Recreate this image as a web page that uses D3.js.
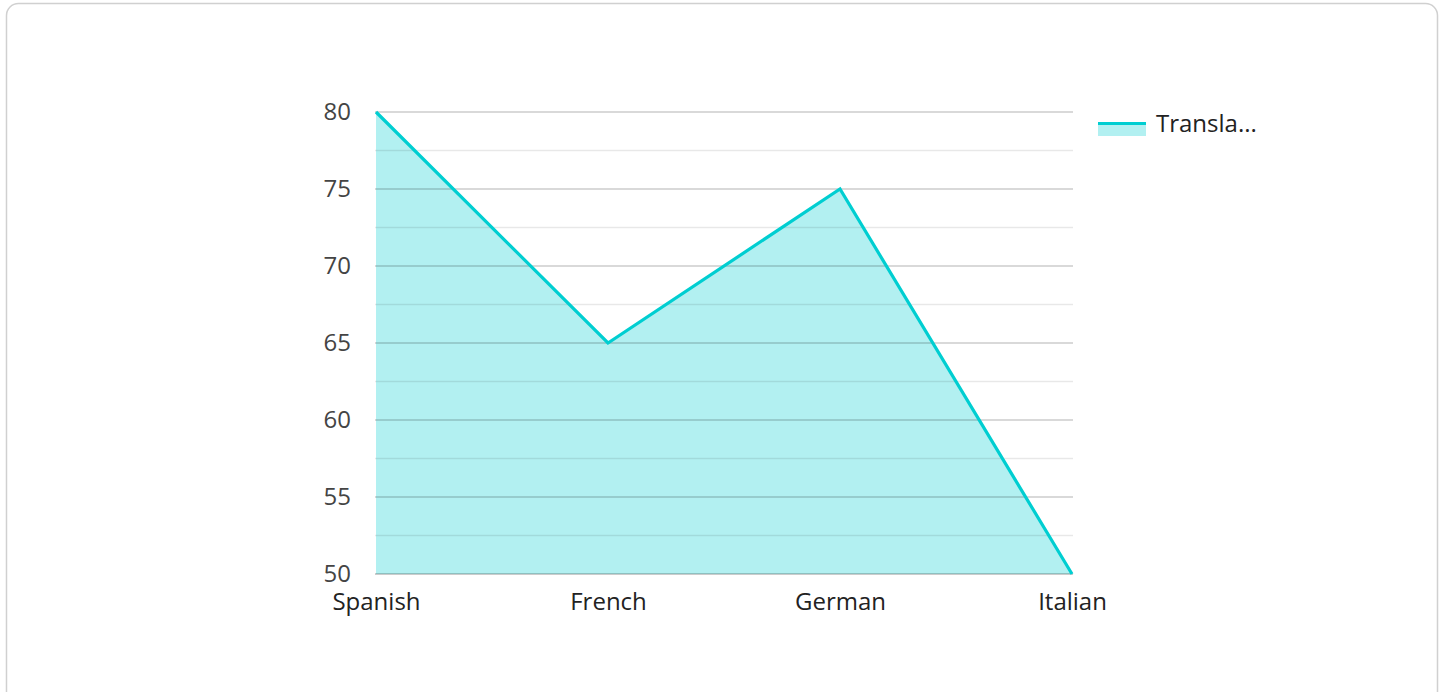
<!DOCTYPE html>
<html><head><meta charset="utf-8">
<script src="https://cdn.jsdelivr.net/npm/d3@7"></script>
<style>html,body{margin:0;padding:0;background:#fff;}svg{display:block;font-family:"Open Sans","Noto Sans",sans-serif;}</style>
</head><body>
<svg id="c" width="1445" height="692"></svg>
<script>
const categories = ["Spanish", "French", "German", "Italian"];
const values = [80, 65, 75, 50];
const seriesName = "Translation Accuracy";
const yTicks = [50, 55, 60, 65, 70, 75, 80];
const yMinorTicks = [52.5, 57.5, 62.5, 67.5, 72.5, 77.5];

const svg = d3.select("#c");
svg.append("rect").attr("x", 6.5).attr("y", 3.5).attr("width", 1431).attr("height", 700)
  .attr("rx", 12).attr("fill", "#fff").attr("stroke", "#d0d0d0").attr("stroke-width", 1.5);

const L = 376, R = 1072, T = 112, B = 574;
const x = d3.scalePoint().domain(categories).range([L, R]).padding(0);
const y = d3.scaleLinear().domain([50, 80]).range([B, T]);
const data = categories.map((c, i) => ({c, v: values[i]}));

const g = svg.append("g");
g.append("path").datum(data)
  .attr("d", d3.area().x(d => x(d.c)).y0(y(50)).y1(d => y(d.v)))
  .attr("fill", "rgba(0,206,209,0.3)");

g.selectAll(".minor").data(yMinorTicks).join("line")
  .attr("x1", L - 1).attr("x2", R + 1).attr("y1", d => y(d)).attr("y2", d => y(d))
  .attr("stroke", "rgba(0,0,0,0.09)").attr("stroke-width", 1.3);
g.selectAll(".major").data(yTicks).join("line")
  .attr("x1", L - 1).attr("x2", R + 1).attr("y1", d => y(d)).attr("y2", d => y(d))
  .attr("stroke", "rgba(0,0,0,0.2)").attr("stroke-width", d => d === 50 ? 2 : 1.5);

g.append("path").datum(data)
  .attr("d", d3.line().x(d => x(d.c)).y(d => y(d.v)))
  .attr("fill", "none").attr("stroke", "#00CED1").attr("stroke-width", 3.2).attr("stroke-linejoin", "miter");

const yAxis = d3.axisLeft(y).tickValues(yTicks).tickSize(0).tickPadding(0);
const ya = svg.append("g").attr("transform", `translate(${L - 25},0)`).call(yAxis);
ya.select(".domain").remove();
ya.selectAll("text").attr("font-size", 24).attr("fill", "#444").attr("font-family", "Open Sans");

const xAxis = d3.axisBottom(x).tickSize(0).tickPadding(0);
const xa = svg.append("g").attr("transform", `translate(0,${B + 19})`).call(xAxis);
xa.select(".domain").remove();
xa.selectAll("text").attr("font-size", 24).attr("fill", "#222").attr("font-family", "Open Sans");

// legend
const lg = svg.append("g").attr("transform", "translate(1098,122)");
lg.append("rect").attr("x", 0).attr("y", 0).attr("width", 48).attr("height", 14).attr("fill", "rgba(0,206,209,0.3)");
lg.append("line").attr("x1", 0).attr("x2", 48).attr("y1", 1.5).attr("y2", 1.5).attr("stroke", "#00CED1").attr("stroke-width", 3);
lg.append("text").attr("x", 58).attr("y", 10).attr("font-size", 24).attr("fill", "#222").attr("font-family", "Open Sans")
  .text(seriesName.slice(0, 7) + "...");
</script>
</body></html>
